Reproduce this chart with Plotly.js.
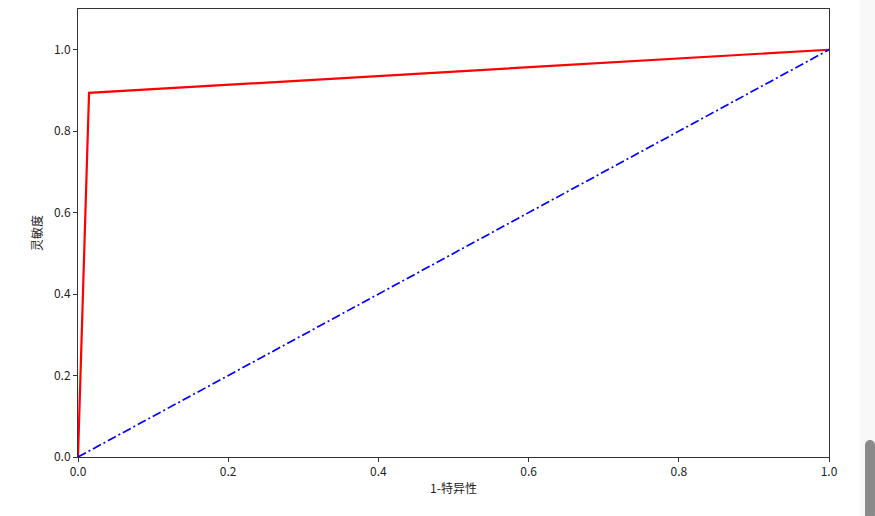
<!DOCTYPE html>
<html><head><meta charset="utf-8">
<script src="https://cdn.plot.ly/plotly-3.0.1.min.js"></script>
<style>
html,body{margin:0;padding:0;background:#fff;overflow:hidden;}
#chart{width:875px;height:516px;position:absolute;left:0;top:0;}
#sbtrack{position:absolute;left:860px;top:0;width:15px;height:516px;background:#f8f8f8;}
#sbthumb{position:absolute;left:865px;top:440px;width:10px;height:80px;background:#8a8a8a;border-radius:5px;}
</style></head>
<body>
<div id="chart"></div>
<div id="sbtrack"></div>
<div id="sbthumb"></div>
<script>
const fpr = [0.0, 0.0147, 1.0];
const tpr = [0.0, 0.894, 1.0];
const refX = [0.0, 1.0];
const refY = [0.0, 1.0];
const tickVals = [0.0, 0.2, 0.4, 0.6, 0.8, 1.0];
const tickText = ['0.0','0.2','0.4','0.6','0.8','1.0'];
const font = {family: '"Noto Sans CJK SC", "DejaVu Sans", sans-serif', size: 12, color: '#222'};
const data = [
  {x: fpr, y: tpr, mode: 'lines', line: {color: 'red', width: 2.2}, hoverinfo: 'none'},
  {x: refX, y: refY, mode: 'lines', line: {color: 'blue', width: 1.7, dash: '9px,3px,2px,3px'}, hoverinfo: 'none'}
];
const axisCommon = {
  showgrid: false, zeroline: false, showline: true, mirror: true,
  linecolor: '#333', linewidth: 1, ticks: 'outside', ticklen: 4, tickcolor: '#333',
  tickvals: tickVals, ticktext: tickText, tickfont: font
};
const layout = {
  width: 875, height: 516,
  margin: {l: 78, r: 46, t: 9, b: 59},
  paper_bgcolor: 'rgba(0,0,0,0)', plot_bgcolor: '#fff',
  showlegend: false,
  xaxis: Object.assign({}, axisCommon, {range: [0, 1], title: {text: '1-特异性', font: font, standoff: 6}}),
  yaxis: Object.assign({}, axisCommon, {range: [0, 1.1], title: {text: '灵敏度', font: font, standoff: 8}})
};
Plotly.newPlot('chart', data, layout, {displayModeBar: false, staticPlot: true});
</script>
</body></html>
